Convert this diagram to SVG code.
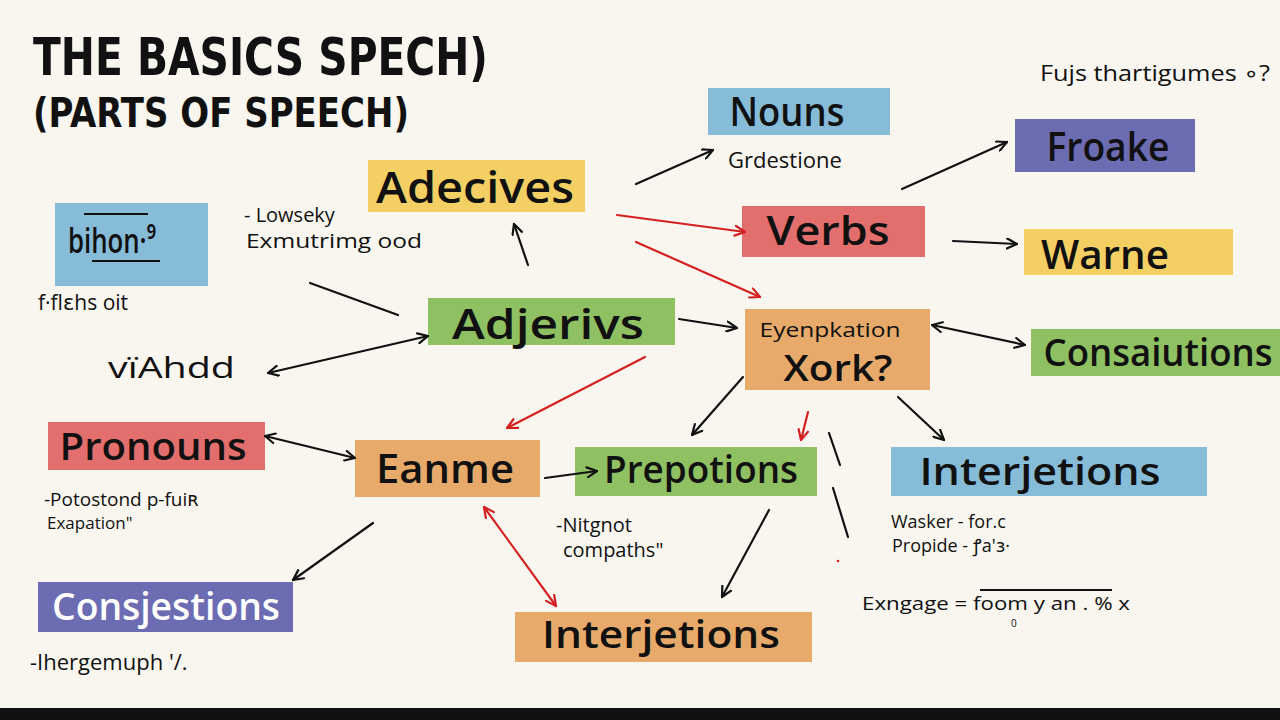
<svg xmlns="http://www.w3.org/2000/svg" width="1280" height="720" viewBox="0 0 1280 720">
<defs>
<style>
.bg{fill:#f8f6ef}
.lbl{font-family:"Open Sans","DejaVu Sans",sans-serif;font-weight:600;fill:#111;text-anchor:middle;dominant-baseline:central}
.note{font-family:"Open Sans","DejaVu Sans",sans-serif;font-weight:400;fill:#111}
.ttl{font-family:"DejaVu Sans Condensed","DejaVu Sans",sans-serif;font-weight:bold;fill:#111}
.blue{fill:#86bcd8}
.yellow{fill:#f4d064}
.purple{fill:#6c6cb2}
.red{fill:#e36e6e}
.green{fill:#8fc062}
.orange{fill:#e7aa6a}
.k{stroke:#111;stroke-width:2.2;fill:none;stroke-linecap:round}
.r{stroke:#d42020;stroke-width:2.2;fill:none;stroke-linecap:round}
</style>
<marker id="ak" viewBox="0 0 12 12" refX="11" refY="6" markerWidth="12" markerHeight="12" markerUnits="userSpaceOnUse" orient="auto-start-reverse"><path d="M1,1 L11,6 L1,11" fill="none" stroke="#111" stroke-width="2.2" stroke-linecap="round" stroke-linejoin="round"/></marker>
<marker id="ar" viewBox="0 0 12 12" refX="11" refY="6" markerWidth="12" markerHeight="12" markerUnits="userSpaceOnUse" orient="auto-start-reverse"><path d="M1,1 L11,6 L1,11" fill="none" stroke="#d42020" stroke-width="2.2" stroke-linecap="round" stroke-linejoin="round"/></marker>
</defs>
<rect class="bg" x="0" y="0" width="1280" height="720"/>
<rect x="0" y="708" width="1280" height="12" fill="#111"/>

<g id="title">
<text class="ttl" x="33" y="75" font-size="52" textLength="455" lengthAdjust="spacingAndGlyphs">THE BASICS SPECH)</text>
<text class="ttl" x="33" y="127" font-size="40" textLength="376" lengthAdjust="spacingAndGlyphs">(PARTS OF SPEECH)</text>
</g>

<g id="nouns">
<rect class="blue" x="708" y="88" width="182" height="47"/>
<text class="lbl" x="787" y="110" font-size="40" textLength="115" lengthAdjust="spacingAndGlyphs">Nouns</text>
<text class="note" x="728" y="168" font-size="22">Grdestione</text>
</g>

<g id="adecives">
<rect class="yellow" x="368" y="160" width="217" height="52"/>
<text class="lbl" x="475" y="186" font-size="44" textLength="198" lengthAdjust="spacingAndGlyphs">Adecives</text>
</g>

<g id="froake">
<rect class="purple" x="1015" y="119" width="180" height="53"/>
<text class="lbl" x="1108" y="145" font-size="40" textLength="123" lengthAdjust="spacingAndGlyphs">Froake</text>
</g>

<g id="verbs">
<rect class="red" x="742" y="206" width="183" height="51"/>
<text class="lbl" x="828" y="229" font-size="40" textLength="123" lengthAdjust="spacingAndGlyphs">Verbs</text>
</g>

<g id="warne">
<rect class="yellow" x="1024" y="229" width="209" height="46"/>
<text class="lbl" x="1105" y="253" font-size="40" textLength="128" lengthAdjust="spacingAndGlyphs">Warne</text>
</g>

<g id="bihon">
<rect class="blue" x="55" y="203" width="153" height="83"/>
<line x1="84" y1="214" x2="148" y2="214" stroke="#111" stroke-width="2"/>
<line x1="92" y1="261" x2="160" y2="261" stroke="#111" stroke-width="2"/>
<text class="lbl" x="112" y="240" font-size="34" textLength="88" lengthAdjust="spacingAndGlyphs">bihon·⁹</text>
<text class="note" x="38" y="310" font-size="21">f·flɛhs oit</text>
</g>

<g id="lowseky">
<text class="note" x="244" y="222" font-size="20">- Lowseky</text>
<text class="note" x="246" y="248" font-size="20" textLength="176" lengthAdjust="spacingAndGlyphs">Exmutrimg ood</text>
</g>

<g id="viiahdd">
<text class="note" x="108" y="378" font-size="30" textLength="127" lengthAdjust="spacingAndGlyphs">vïAhdd</text>
</g>

<g id="adjerivs">
<rect class="green" x="428" y="298" width="247" height="47"/>
<text class="lbl" x="548" y="322" font-size="42" textLength="192" lengthAdjust="spacingAndGlyphs">Adjerivs</text>
</g>

<g id="xork">
<rect class="orange" x="745" y="309" width="185" height="81"/>
<text class="note" x="830" y="329" font-size="20" text-anchor="middle" dominant-baseline="central" textLength="141" lengthAdjust="spacingAndGlyphs">Eyenpkation</text>
<text class="lbl" x="838" y="367" font-size="36" textLength="109" lengthAdjust="spacingAndGlyphs">Xork?</text>
</g>

<g id="consaiutions">
<rect class="green" x="1031" y="329" width="249" height="47"/>
<text class="lbl" x="1158" y="351" font-size="38" textLength="229" lengthAdjust="spacingAndGlyphs">Consaiutions</text>
</g>

<g id="pronouns">
<rect class="red" x="48" y="422" width="217" height="48"/>
<text class="lbl" x="153" y="445" font-size="38" textLength="187" lengthAdjust="spacingAndGlyphs">Pronouns</text>
<text class="note" x="44" y="506" font-size="19">-Potostond p-fuiʀ</text>
<text class="note" x="47" y="529" font-size="17">Exapation"</text>
</g>

<g id="eanme">
<rect class="orange" x="355" y="440" width="185" height="57"/>
<text class="lbl" x="445" y="467" font-size="40" textLength="138" lengthAdjust="spacingAndGlyphs">Eanme</text>
</g>

<g id="prepotions">
<rect class="green" x="575" y="447" width="242" height="49"/>
<text class="lbl" x="701" y="468" font-size="38" textLength="194" lengthAdjust="spacingAndGlyphs">Prepotions</text>
<text class="note" x="556" y="532" font-size="20">-Nitgnot</text>
<text class="note" x="563" y="557" font-size="20">compaths"</text>
</g>

<g id="interjetions-right">
<rect class="blue" x="891" y="447" width="316" height="49"/>
<text class="lbl" x="1040" y="470" font-size="38" textLength="241" lengthAdjust="spacingAndGlyphs">Interjetions</text>
<text class="note" x="891" y="528" font-size="18">Wasker - for.c</text>
<text class="note" x="892" y="552" font-size="18">Propide - ꝭa'ɜ·</text>
</g>

<g id="exngage">
<line x1="980" y1="590" x2="1112" y2="590" stroke="#111" stroke-width="1.8"/>
<text class="note" x="862" y="610" font-size="19" textLength="268" lengthAdjust="spacingAndGlyphs">Exngage = foom y an . % x</text>
<text class="note" x="1011" y="627" font-size="10">0</text>
</g>

<g id="fujs">
<text class="note" x="1040" y="81" font-size="22" textLength="230" lengthAdjust="spacingAndGlyphs">Fujs thartigumes ∘?</text>
</g>

<g id="consjestions">
<rect class="purple" x="38" y="582" width="255" height="50"/>
<text class="lbl" x="166" y="605" font-size="38" style="fill:#fff" textLength="228" lengthAdjust="spacingAndGlyphs">Consjestions</text>
<text class="note" x="30" y="670" font-size="22">-Ihergemuph '/.</text>
</g>

<g id="interjetions-bottom">
<rect class="orange" x="515" y="612" width="297" height="50"/>
<text class="lbl" x="661" y="633" font-size="38" textLength="238" lengthAdjust="spacingAndGlyphs">Interjetions</text>
</g>

<g id="connectors">
<path class="k" d="M636,184 L713,150" marker-end="url(#ak)"/>
<path class="r" d="M617,215 L745,232" marker-end="url(#ar)"/>
<path class="r" d="M636,242 L760,297" marker-end="url(#ar)"/>
<path class="k" d="M902,189 L1007,142" marker-end="url(#ak)"/>
<path class="k" d="M953,241 L1017,244" marker-end="url(#ak)"/>
<path class="k" d="M528,265 L514,224" marker-end="url(#ak)"/>
<path class="k" d="M310,283 L398,315"/>
<path class="k" d="M268,373 L428,336" marker-start="url(#ak)" marker-end="url(#ak)"/>
<path class="k" d="M679,319 L737,328" marker-end="url(#ak)"/>
<path class="k" d="M932,325 L1025,345" marker-start="url(#ak)" marker-end="url(#ak)"/>
<path class="r" d="M645,357 L507,428" marker-end="url(#ar)"/>
<path class="k" d="M743,377 L692,435" marker-end="url(#ak)"/>
<path class="r" d="M808,412 L801,440" marker-end="url(#ar)"/>
<path class="k" d="M898,397 L944,440" marker-end="url(#ak)"/>
<path class="k" d="M829,433 L840,465"/>
<path class="k" d="M833,488 L848,537"/>
<path class="k" d="M265,436 L355,458" marker-start="url(#ak)" marker-end="url(#ak)"/>
<path class="k" d="M545,478 L597,471" marker-end="url(#ak)"/>
<path class="k" d="M373,523 L293,580" marker-end="url(#ak)"/>
<path class="r" d="M484,507 L556,606" marker-start="url(#ar)" marker-end="url(#ar)"/>
<path class="k" d="M769,510 L722,597" marker-end="url(#ak)"/>
<circle cx="838" cy="561" r="1.3" fill="#d42020"/>
</g>
</svg>
